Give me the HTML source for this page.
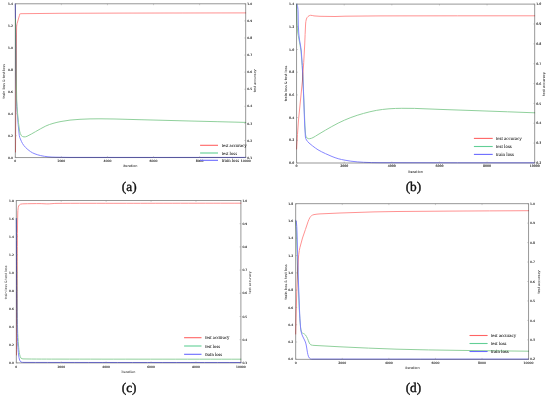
<!DOCTYPE html>
<html><head><meta charset="utf-8"><title>Figure</title>
<style>
html,body{margin:0;padding:0;background:#fff;}
svg{display:block}
text{text-rendering:geometricPrecision}
.tk{font-family:"DejaVu Sans","Liberation Sans",sans-serif;fill:#111;stroke:#111;stroke-width:0.09px}
.lb{font-family:"DejaVu Sans","Liberation Sans",sans-serif;fill:#2a2a2a;stroke:#2a2a2a;stroke-width:0.02px}
.lg{font-family:"Liberation Serif","DejaVu Serif",serif;fill:#111;stroke:#111;stroke-width:0.04px}
.cap{font-family:"Liberation Serif","DejaVu Serif",serif;font-size:13.3px;fill:#111;stroke:#111;stroke-width:0.38px}
</style></head><body>
<svg width="550" height="398" viewBox="0 0 550 398">
<rect width="550" height="398" fill="#fff"/>
<path d="M15.30 4.00C15.50 19.33 15.71 34.67 15.90 50.00C16.11 66.67 16.13 83.34 16.50 100.00C16.60 104.54 16.94 109.07 17.30 113.60C17.88 120.94 18.41 128.31 19.30 135.60C19.44 136.78 19.95 137.90 20.40 139.00C21.02 140.53 21.65 142.09 22.50 143.50C23.35 144.89 24.35 146.24 25.50 147.40C27.02 148.94 28.71 150.38 30.50 151.60C31.88 152.55 33.44 153.29 35.00 153.90C36.84 154.62 38.77 155.17 40.70 155.60C43.10 156.14 45.55 156.54 48.00 156.80C50.65 157.08 53.33 157.13 56.00 157.20C60.66 157.33 65.33 157.40 70.00 157.40C128.57 157.46 187.13 157.40 245.70 157.40" fill="none" stroke="#8080ff" stroke-width="0.95" stroke-linejoin="round" stroke-linecap="round"/>
<path d="M15.50 19.00C15.63 29.33 15.75 39.67 15.90 50.00C16.15 66.67 16.25 83.34 16.70 100.00C16.82 104.54 17.18 109.08 17.60 113.60C18.14 119.41 18.60 125.28 19.60 131.00C19.90 132.68 20.54 134.51 21.50 135.80C22.01 136.48 23.14 136.82 24.00 136.90C24.97 136.99 26.08 136.72 27.00 136.30C29.95 134.95 32.73 133.17 35.60 131.60C39.00 129.74 42.30 127.65 45.80 126.00C48.10 124.92 50.56 124.12 53.00 123.40C55.62 122.62 58.31 122.02 61.00 121.50C63.98 120.92 66.99 120.45 70.00 120.10C73.32 119.72 76.66 119.50 80.00 119.30C83.33 119.10 86.67 118.98 90.00 118.90C93.33 118.82 96.67 118.79 100.00 118.80C105.00 118.82 110.00 118.89 115.00 119.00C123.33 119.19 131.67 119.48 140.00 119.70C156.67 120.14 173.33 120.57 190.00 121.00C208.57 121.47 227.13 121.93 245.70 122.40" fill="none" stroke="#8acd97" stroke-width="0.95" stroke-linejoin="round" stroke-linecap="round"/>
<path d="M15.50 152.00C15.63 134.67 15.76 117.33 15.90 100.00C16.03 83.33 16.14 66.67 16.30 50.00C16.37 42.33 16.45 34.66 16.60 27.00C16.61 26.33 16.71 25.66 16.80 25.00C16.87 24.50 16.96 23.99 17.10 23.50C17.86 20.72 18.70 17.97 19.50 15.20C19.63 14.73 19.66 14.15 19.90 13.80C20.00 13.65 20.30 13.70 20.50 13.70C23.66 13.64 26.83 13.63 30.00 13.60C40.00 13.50 50.00 13.36 60.00 13.30C80.00 13.19 100.00 13.14 120.00 13.10C161.90 13.01 203.80 12.97 245.70 12.90" fill="none" stroke="#ff8c8c" stroke-width="0.95" stroke-linejoin="round" stroke-linecap="round" style="mix-blend-mode:multiply"/>
<rect x="15.3" y="3.8" width="230.40" height="153.80" fill="none" stroke="#8c8c8c" stroke-width="0.9" style="mix-blend-mode:multiply"/>
<path d="M15.3 157.60h1.4" stroke="#8c8c8c" stroke-width="0.4"/>
<text x="12.90" y="158.70" text-anchor="end" class="tk" font-size="3.10">0.0</text>
<path d="M15.3 135.63h1.4" stroke="#8c8c8c" stroke-width="0.4"/>
<text x="12.90" y="136.73" text-anchor="end" class="tk" font-size="3.10">0.2</text>
<path d="M15.3 113.66h1.4" stroke="#8c8c8c" stroke-width="0.4"/>
<text x="12.90" y="114.76" text-anchor="end" class="tk" font-size="3.10">0.4</text>
<path d="M15.3 91.69h1.4" stroke="#8c8c8c" stroke-width="0.4"/>
<text x="12.90" y="92.79" text-anchor="end" class="tk" font-size="3.10">0.6</text>
<path d="M15.3 69.71h1.4" stroke="#8c8c8c" stroke-width="0.4"/>
<text x="12.90" y="70.81" text-anchor="end" class="tk" font-size="3.10">0.8</text>
<path d="M15.3 47.74h1.4" stroke="#8c8c8c" stroke-width="0.4"/>
<text x="12.90" y="48.84" text-anchor="end" class="tk" font-size="3.10">1.0</text>
<path d="M15.3 25.77h1.4" stroke="#8c8c8c" stroke-width="0.4"/>
<text x="12.90" y="26.87" text-anchor="end" class="tk" font-size="3.10">1.2</text>
<path d="M15.3 3.80h1.4" stroke="#8c8c8c" stroke-width="0.4"/>
<text x="12.90" y="4.90" text-anchor="end" class="tk" font-size="3.10">1.4</text>
<path d="M245.7 157.60h-1.4" stroke="#8c8c8c" stroke-width="0.4"/>
<text x="247.20" y="158.70" class="tk" font-size="3.10">0.1</text>
<path d="M245.7 140.51h-1.4" stroke="#8c8c8c" stroke-width="0.4"/>
<text x="247.20" y="141.61" class="tk" font-size="3.10">0.2</text>
<path d="M245.7 123.42h-1.4" stroke="#8c8c8c" stroke-width="0.4"/>
<text x="247.20" y="124.52" class="tk" font-size="3.10">0.3</text>
<path d="M245.7 106.33h-1.4" stroke="#8c8c8c" stroke-width="0.4"/>
<text x="247.20" y="107.43" class="tk" font-size="3.10">0.4</text>
<path d="M245.7 89.24h-1.4" stroke="#8c8c8c" stroke-width="0.4"/>
<text x="247.20" y="90.34" class="tk" font-size="3.10">0.5</text>
<path d="M245.7 72.16h-1.4" stroke="#8c8c8c" stroke-width="0.4"/>
<text x="247.20" y="73.26" class="tk" font-size="3.10">0.6</text>
<path d="M245.7 55.07h-1.4" stroke="#8c8c8c" stroke-width="0.4"/>
<text x="247.20" y="56.17" class="tk" font-size="3.10">0.7</text>
<path d="M245.7 37.98h-1.4" stroke="#8c8c8c" stroke-width="0.4"/>
<text x="247.20" y="39.08" class="tk" font-size="3.10">0.8</text>
<path d="M245.7 20.89h-1.4" stroke="#8c8c8c" stroke-width="0.4"/>
<text x="247.20" y="21.99" class="tk" font-size="3.10">0.9</text>
<path d="M245.7 3.80h-1.4" stroke="#8c8c8c" stroke-width="0.4"/>
<text x="247.20" y="4.90" class="tk" font-size="3.10">1.0</text>
<path d="M15.30 157.6v-1.4M15.30 3.8v1.4" stroke="#8c8c8c" stroke-width="0.4"/>
<text x="15.30" y="161.80" text-anchor="middle" class="tk" font-size="3.10">0</text>
<path d="M61.38 157.6v-1.4M61.38 3.8v1.4" stroke="#8c8c8c" stroke-width="0.4"/>
<text x="61.38" y="161.80" text-anchor="middle" class="tk" font-size="3.10">2000</text>
<path d="M107.46 157.6v-1.4M107.46 3.8v1.4" stroke="#8c8c8c" stroke-width="0.4"/>
<text x="107.46" y="161.80" text-anchor="middle" class="tk" font-size="3.10">4000</text>
<path d="M153.54 157.6v-1.4M153.54 3.8v1.4" stroke="#8c8c8c" stroke-width="0.4"/>
<text x="153.54" y="161.80" text-anchor="middle" class="tk" font-size="3.10">6000</text>
<path d="M199.62 157.6v-1.4M199.62 3.8v1.4" stroke="#8c8c8c" stroke-width="0.4"/>
<text x="199.62" y="161.80" text-anchor="middle" class="tk" font-size="3.10">8000</text>
<path d="M245.70 157.6v-1.4M245.70 3.8v1.4" stroke="#8c8c8c" stroke-width="0.4"/>
<text x="245.70" y="161.80" text-anchor="middle" class="tk" font-size="3.10">10000</text>
<text transform="translate(5.40 81.30) rotate(-90)" text-anchor="middle" class="lb" font-size="3.40">train loss &amp; test loss</text>
<text transform="translate(256.30 80.90) rotate(-90)" text-anchor="middle" class="lb" font-size="3.40">test accuracy</text>
<text x="130.20" y="167.10" text-anchor="middle" class="lb" font-size="3.40">iteration</text>
<path d="M200.1 145.3H218" stroke="#ff6464" stroke-width="1.1"/>
<text x="221.8" y="146.80" class="lg" font-size="4.78">test accuracy</text>
<path d="M200.1 153H218" stroke="#62cf96" stroke-width="1.1"/>
<text x="221.8" y="154.50" class="lg" font-size="4.78">test loss</text>
<path d="M200.1 160.3H218" stroke="#6a6aff" stroke-width="1.1"/>
<text x="221.8" y="161.80" class="lg" font-size="4.78">train loss</text>
<path d="M296.60 4.20C296.67 6.80 296.74 9.40 296.80 12.00C296.87 15.33 296.85 18.67 297.00 22.00C297.15 25.34 297.33 28.68 297.70 32.00C297.96 34.35 298.49 36.67 298.90 39.00C299.59 43.00 300.60 46.96 301.00 51.00C301.96 60.63 302.47 70.33 303.00 80.00C303.64 91.66 303.95 103.34 304.50 115.00C304.82 121.67 304.84 128.44 305.60 135.00C305.74 136.17 306.41 137.47 307.20 138.20C307.74 138.70 308.81 138.78 309.60 138.70C310.75 138.58 311.94 138.12 313.00 137.60C314.74 136.75 316.33 135.60 318.00 134.60C320.46 133.13 322.91 131.62 325.40 130.20C329.64 127.79 333.84 125.27 338.20 123.10C342.34 121.04 346.58 119.15 350.90 117.50C355.05 115.92 359.32 114.60 363.60 113.40C367.79 112.23 372.03 111.17 376.30 110.40C380.49 109.64 384.75 109.15 389.00 108.80C393.25 108.45 397.53 108.37 401.80 108.30C406.03 108.23 410.27 108.28 414.50 108.40C423.00 108.64 431.50 109.09 440.00 109.40C453.33 109.89 466.67 110.32 480.00 110.80C498.23 111.45 516.47 112.13 534.70 112.80" fill="none" stroke="#8acd97" stroke-width="0.95" stroke-linejoin="round" stroke-linecap="round"/>
<path d="M296.60 4.20C296.93 4.97 297.44 5.69 297.60 6.50C297.94 8.29 298.03 10.16 298.10 12.00C298.26 16.33 298.16 20.67 298.30 25.00C298.40 28.00 298.54 31.01 298.80 34.00C299.00 36.34 299.36 38.67 299.70 41.00C300.19 44.34 301.02 47.64 301.30 51.00C302.12 60.64 302.55 70.33 303.00 80.00C303.55 91.66 303.81 103.34 304.30 115.00C304.61 122.34 304.76 129.72 305.40 137.00C305.49 138.06 305.96 139.10 306.50 140.00C307.16 141.10 308.07 142.10 309.00 143.00C310.14 144.10 311.43 145.04 312.70 146.00C314.43 147.31 316.14 148.69 318.00 149.80C320.37 151.22 322.90 152.40 325.40 153.60C327.57 154.64 329.77 155.61 332.00 156.50C334.04 157.31 336.09 158.10 338.20 158.70C340.43 159.33 342.72 159.75 345.00 160.20C346.96 160.59 348.92 160.98 350.90 161.20C355.12 161.68 359.36 162.08 363.60 162.30C369.06 162.58 374.53 162.68 380.00 162.70C431.57 162.85 483.13 162.77 534.70 162.80" fill="none" stroke="#8080ff" stroke-width="0.95" stroke-linejoin="round" stroke-linecap="round"/>
<path d="M296.60 149.00C297.23 139.33 297.67 129.65 298.50 120.00C299.64 106.65 301.40 93.35 302.50 80.00C303.46 68.35 304.05 56.67 304.70 45.00C305.09 38.00 305.14 30.98 305.60 24.00C305.71 22.32 305.90 20.58 306.40 19.00C306.70 18.08 307.29 17.14 308.00 16.50C308.66 15.90 309.62 15.39 310.50 15.30C311.62 15.19 312.82 15.78 314.00 15.90C315.99 16.11 318.00 16.24 320.00 16.30C325.00 16.44 330.00 16.52 335.00 16.50C338.33 16.49 341.67 16.24 345.00 16.20C356.67 16.04 368.33 15.92 380.00 15.90C431.57 15.79 483.13 15.83 534.70 15.80" fill="none" stroke="#ff8c8c" stroke-width="0.95" stroke-linejoin="round" stroke-linecap="round" style="mix-blend-mode:multiply"/>
<rect x="296.6" y="4.1" width="238.10" height="158.90" fill="none" stroke="#8c8c8c" stroke-width="0.9" style="mix-blend-mode:multiply"/>
<path d="M296.6 163.00h1.4" stroke="#8c8c8c" stroke-width="0.4"/>
<text x="294.20" y="164.10" text-anchor="end" class="tk" font-size="3.20">0.0</text>
<path d="M296.6 140.30h1.4" stroke="#8c8c8c" stroke-width="0.4"/>
<text x="294.20" y="141.40" text-anchor="end" class="tk" font-size="3.20">0.2</text>
<path d="M296.6 117.60h1.4" stroke="#8c8c8c" stroke-width="0.4"/>
<text x="294.20" y="118.70" text-anchor="end" class="tk" font-size="3.20">0.4</text>
<path d="M296.6 94.90h1.4" stroke="#8c8c8c" stroke-width="0.4"/>
<text x="294.20" y="96.00" text-anchor="end" class="tk" font-size="3.20">0.6</text>
<path d="M296.6 72.20h1.4" stroke="#8c8c8c" stroke-width="0.4"/>
<text x="294.20" y="73.30" text-anchor="end" class="tk" font-size="3.20">0.8</text>
<path d="M296.6 49.50h1.4" stroke="#8c8c8c" stroke-width="0.4"/>
<text x="294.20" y="50.60" text-anchor="end" class="tk" font-size="3.20">1.0</text>
<path d="M296.6 26.80h1.4" stroke="#8c8c8c" stroke-width="0.4"/>
<text x="294.20" y="27.90" text-anchor="end" class="tk" font-size="3.20">1.2</text>
<path d="M296.6 4.10h1.4" stroke="#8c8c8c" stroke-width="0.4"/>
<text x="294.20" y="5.20" text-anchor="end" class="tk" font-size="3.20">1.4</text>
<path d="M534.7 163.00h-1.4" stroke="#8c8c8c" stroke-width="0.4"/>
<text x="536.20" y="164.10" class="tk" font-size="3.20">0.2</text>
<path d="M534.7 143.14h-1.4" stroke="#8c8c8c" stroke-width="0.4"/>
<text x="536.20" y="144.24" class="tk" font-size="3.20">0.3</text>
<path d="M534.7 123.28h-1.4" stroke="#8c8c8c" stroke-width="0.4"/>
<text x="536.20" y="124.38" class="tk" font-size="3.20">0.4</text>
<path d="M534.7 103.41h-1.4" stroke="#8c8c8c" stroke-width="0.4"/>
<text x="536.20" y="104.51" class="tk" font-size="3.20">0.5</text>
<path d="M534.7 83.55h-1.4" stroke="#8c8c8c" stroke-width="0.4"/>
<text x="536.20" y="84.65" class="tk" font-size="3.20">0.6</text>
<path d="M534.7 63.69h-1.4" stroke="#8c8c8c" stroke-width="0.4"/>
<text x="536.20" y="64.79" class="tk" font-size="3.20">0.7</text>
<path d="M534.7 43.82h-1.4" stroke="#8c8c8c" stroke-width="0.4"/>
<text x="536.20" y="44.92" class="tk" font-size="3.20">0.8</text>
<path d="M534.7 23.96h-1.4" stroke="#8c8c8c" stroke-width="0.4"/>
<text x="536.20" y="25.06" class="tk" font-size="3.20">0.9</text>
<path d="M534.7 4.10h-1.4" stroke="#8c8c8c" stroke-width="0.4"/>
<text x="536.20" y="5.20" class="tk" font-size="3.20">1.0</text>
<path d="M296.60 163v-1.4M296.60 4.1v1.4" stroke="#8c8c8c" stroke-width="0.4"/>
<text x="296.60" y="167.20" text-anchor="middle" class="tk" font-size="3.20">0</text>
<path d="M344.22 163v-1.4M344.22 4.1v1.4" stroke="#8c8c8c" stroke-width="0.4"/>
<text x="344.22" y="167.20" text-anchor="middle" class="tk" font-size="3.20">2000</text>
<path d="M391.84 163v-1.4M391.84 4.1v1.4" stroke="#8c8c8c" stroke-width="0.4"/>
<text x="391.84" y="167.20" text-anchor="middle" class="tk" font-size="3.20">4000</text>
<path d="M439.46 163v-1.4M439.46 4.1v1.4" stroke="#8c8c8c" stroke-width="0.4"/>
<text x="439.46" y="167.20" text-anchor="middle" class="tk" font-size="3.20">6000</text>
<path d="M487.08 163v-1.4M487.08 4.1v1.4" stroke="#8c8c8c" stroke-width="0.4"/>
<text x="487.08" y="167.20" text-anchor="middle" class="tk" font-size="3.20">8000</text>
<path d="M534.70 163v-1.4M534.70 4.1v1.4" stroke="#8c8c8c" stroke-width="0.4"/>
<text x="534.70" y="167.20" text-anchor="middle" class="tk" font-size="3.20">10000</text>
<text transform="translate(286.80 83.50) rotate(-90)" text-anchor="middle" class="lb" font-size="3.51">train loss &amp; test loss</text>
<text transform="translate(545.30 84.00) rotate(-90)" text-anchor="middle" class="lb" font-size="3.51">test accuracy</text>
<text x="415.60" y="172.50" text-anchor="middle" class="lb" font-size="3.51">iteration</text>
<path d="M473.9 138.4H492.7" stroke="#ff6464" stroke-width="1.1"/>
<text x="496" y="139.90" class="lg" font-size="4.94">test accuracy</text>
<path d="M473.9 146.5H492.7" stroke="#62cf96" stroke-width="1.1"/>
<text x="496" y="148.00" class="lg" font-size="4.94">test loss</text>
<path d="M473.9 154.4H492.7" stroke="#6a6aff" stroke-width="1.1"/>
<text x="496" y="155.90" class="lg" font-size="4.94">train loss</text>
<path d="M16.40 218.50C16.53 234.90 16.72 263.60 16.90 280.00C17.04 293.33 17.27 316.67 17.60 330.00C17.70 334.01 18.17 341.01 18.50 345.00C18.70 347.49 19.14 351.86 19.60 354.30C19.80 355.38 20.40 357.39 21.00 358.20C21.31 358.62 22.44 358.89 23.00 358.90C32.84 359.13 50.13 359.09 60.00 359.10C108.24 359.17 192.66 359.17 240.90 359.20" fill="none" stroke="#8acd97" stroke-width="0.95" stroke-linejoin="round" stroke-linecap="round"/>
<path d="M16.30 218.50C16.38 234.90 16.47 263.60 16.60 280.00C16.71 293.33 16.95 316.67 17.20 330.00C17.27 334.00 17.58 341.00 17.80 345.00C17.95 347.67 18.28 352.35 18.60 355.00C18.76 356.35 19.17 358.74 19.60 360.00C19.81 360.60 20.48 361.71 21.00 362.00C21.65 362.35 23.19 362.40 24.00 362.40C81.83 362.53 183.06 362.47 240.90 362.50" fill="none" stroke="#8080ff" stroke-width="0.95" stroke-linejoin="round" stroke-linecap="round"/>
<path d="M16.50 355.00C16.63 340.33 16.89 314.67 17.00 300.00C17.13 284.00 17.25 256.00 17.40 240.00C17.47 232.53 17.54 219.46 17.80 212.00C17.86 210.39 18.10 207.45 18.60 206.00C18.82 205.37 19.89 204.45 20.50 204.20C21.33 203.86 23.06 203.83 24.00 203.80C28.26 203.67 35.73 203.58 40.00 203.60C42.13 203.61 45.87 203.93 48.00 203.90C50.13 203.87 53.86 203.42 56.00 203.40C73.06 203.26 102.93 203.32 120.00 203.30C152.24 203.27 208.66 203.23 240.90 203.20" fill="none" stroke="#ff8c8c" stroke-width="0.95" stroke-linejoin="round" stroke-linecap="round" style="mix-blend-mode:multiply"/>
<rect x="16.3" y="200.5" width="224.60" height="162.40" fill="none" stroke="#8c8c8c" stroke-width="0.9" style="mix-blend-mode:multiply"/>
<path d="M16.3 362.90h1.4" stroke="#8c8c8c" stroke-width="0.4"/>
<text x="13.90" y="364.00" text-anchor="end" class="tk" font-size="3.02">0.0</text>
<path d="M16.3 344.86h1.4" stroke="#8c8c8c" stroke-width="0.4"/>
<text x="13.90" y="345.96" text-anchor="end" class="tk" font-size="3.02">0.2</text>
<path d="M16.3 326.81h1.4" stroke="#8c8c8c" stroke-width="0.4"/>
<text x="13.90" y="327.91" text-anchor="end" class="tk" font-size="3.02">0.4</text>
<path d="M16.3 308.77h1.4" stroke="#8c8c8c" stroke-width="0.4"/>
<text x="13.90" y="309.87" text-anchor="end" class="tk" font-size="3.02">0.6</text>
<path d="M16.3 290.72h1.4" stroke="#8c8c8c" stroke-width="0.4"/>
<text x="13.90" y="291.82" text-anchor="end" class="tk" font-size="3.02">0.8</text>
<path d="M16.3 272.68h1.4" stroke="#8c8c8c" stroke-width="0.4"/>
<text x="13.90" y="273.78" text-anchor="end" class="tk" font-size="3.02">1.0</text>
<path d="M16.3 254.63h1.4" stroke="#8c8c8c" stroke-width="0.4"/>
<text x="13.90" y="255.73" text-anchor="end" class="tk" font-size="3.02">1.2</text>
<path d="M16.3 236.59h1.4" stroke="#8c8c8c" stroke-width="0.4"/>
<text x="13.90" y="237.69" text-anchor="end" class="tk" font-size="3.02">1.4</text>
<path d="M16.3 218.54h1.4" stroke="#8c8c8c" stroke-width="0.4"/>
<text x="13.90" y="219.64" text-anchor="end" class="tk" font-size="3.02">1.6</text>
<path d="M16.3 200.50h1.4" stroke="#8c8c8c" stroke-width="0.4"/>
<text x="13.90" y="201.60" text-anchor="end" class="tk" font-size="3.02">1.8</text>
<path d="M240.9 362.90h-1.4" stroke="#8c8c8c" stroke-width="0.4"/>
<text x="242.40" y="364.00" class="tk" font-size="3.02">0.3</text>
<path d="M240.9 339.70h-1.4" stroke="#8c8c8c" stroke-width="0.4"/>
<text x="242.40" y="340.80" class="tk" font-size="3.02">0.4</text>
<path d="M240.9 316.50h-1.4" stroke="#8c8c8c" stroke-width="0.4"/>
<text x="242.40" y="317.60" class="tk" font-size="3.02">0.5</text>
<path d="M240.9 293.30h-1.4" stroke="#8c8c8c" stroke-width="0.4"/>
<text x="242.40" y="294.40" class="tk" font-size="3.02">0.6</text>
<path d="M240.9 270.10h-1.4" stroke="#8c8c8c" stroke-width="0.4"/>
<text x="242.40" y="271.20" class="tk" font-size="3.02">0.7</text>
<path d="M240.9 246.90h-1.4" stroke="#8c8c8c" stroke-width="0.4"/>
<text x="242.40" y="248.00" class="tk" font-size="3.02">0.8</text>
<path d="M240.9 223.70h-1.4" stroke="#8c8c8c" stroke-width="0.4"/>
<text x="242.40" y="224.80" class="tk" font-size="3.02">0.9</text>
<path d="M240.9 200.50h-1.4" stroke="#8c8c8c" stroke-width="0.4"/>
<text x="242.40" y="201.60" class="tk" font-size="3.02">1.0</text>
<path d="M16.30 362.9v-1.4M16.30 200.5v1.4" stroke="#8c8c8c" stroke-width="0.4"/>
<text x="16.30" y="367.80" text-anchor="middle" class="tk" font-size="3.02">0</text>
<path d="M61.22 362.9v-1.4M61.22 200.5v1.4" stroke="#8c8c8c" stroke-width="0.4"/>
<text x="61.22" y="367.80" text-anchor="middle" class="tk" font-size="3.02">2000</text>
<path d="M106.14 362.9v-1.4M106.14 200.5v1.4" stroke="#8c8c8c" stroke-width="0.4"/>
<text x="106.14" y="367.80" text-anchor="middle" class="tk" font-size="3.02">4000</text>
<path d="M151.06 362.9v-1.4M151.06 200.5v1.4" stroke="#8c8c8c" stroke-width="0.4"/>
<text x="151.06" y="367.80" text-anchor="middle" class="tk" font-size="3.02">6000</text>
<path d="M195.98 362.9v-1.4M195.98 200.5v1.4" stroke="#8c8c8c" stroke-width="0.4"/>
<text x="195.98" y="367.80" text-anchor="middle" class="tk" font-size="3.02">8000</text>
<path d="M240.90 362.9v-1.4M240.90 200.5v1.4" stroke="#8c8c8c" stroke-width="0.4"/>
<text x="240.90" y="367.80" text-anchor="middle" class="tk" font-size="3.02">10000</text>
<text transform="translate(6.90 282.40) rotate(-90)" text-anchor="middle" class="lb" font-size="3.31">train loss &amp; test loss</text>
<text transform="translate(251.30 282.40) rotate(-90)" text-anchor="middle" class="lb" font-size="3.31">test accuracy</text>
<text x="128.50" y="372.80" text-anchor="middle" class="lb" font-size="3.31">iteration</text>
<path d="M184.1 337.7H201.5" stroke="#ff6464" stroke-width="1.1"/>
<text x="205.2" y="339.20" class="lg" font-size="4.66">test accuracy</text>
<path d="M184.1 346H201.5" stroke="#62cf96" stroke-width="1.1"/>
<text x="205.2" y="347.50" class="lg" font-size="4.66">test loss</text>
<path d="M184.1 354.3H201.5" stroke="#6a6aff" stroke-width="1.1"/>
<text x="205.2" y="355.80" class="lg" font-size="4.66">train loss</text>
<path d="M295.70 221.50C295.93 225.00 296.26 228.50 296.40 232.00C296.96 246.33 297.27 260.67 297.80 275.00C298.23 286.67 298.69 298.34 299.30 310.00C299.59 315.67 299.90 321.36 300.50 327.00C300.70 328.86 300.97 330.91 301.70 332.50C301.97 333.08 302.93 333.13 303.50 333.50C304.16 333.93 304.92 334.30 305.40 334.90C306.25 335.96 306.90 337.25 307.50 338.50C308.20 339.95 308.56 341.58 309.30 343.00C309.66 343.68 310.14 344.47 310.80 344.80C311.71 345.27 312.92 345.33 314.00 345.40C322.65 345.99 331.33 346.40 340.00 346.80C359.00 347.67 377.99 348.63 397.00 349.20C417.99 349.83 439.00 350.08 460.00 350.40C482.87 350.75 505.73 350.93 528.60 351.20" fill="none" stroke="#8acd97" stroke-width="0.95" stroke-linejoin="round" stroke-linecap="round"/>
<path d="M295.70 220.50C295.90 220.67 296.27 220.75 296.30 221.00C296.70 224.58 296.87 228.33 297.00 232.00C297.50 246.33 297.74 260.67 298.20 275.00C298.57 286.67 298.97 298.34 299.50 310.00C299.77 316.00 300.05 322.02 300.60 328.00C300.78 329.99 301.15 331.99 301.70 333.90C302.11 335.32 302.88 336.64 303.50 338.00C304.11 339.34 304.90 340.62 305.40 342.00C305.87 343.29 306.14 344.65 306.40 346.00C306.80 348.05 306.98 350.15 307.40 352.20C307.72 353.75 307.95 355.40 308.60 356.80C308.99 357.63 309.72 358.49 310.50 358.90C311.19 359.26 312.16 359.10 313.00 359.10C384.86 359.17 456.73 359.10 528.60 359.10" fill="none" stroke="#8080ff" stroke-width="0.95" stroke-linejoin="round" stroke-linecap="round"/>
<path d="M295.70 334.00C295.97 322.67 296.17 311.33 296.50 300.00C296.74 291.66 297.03 283.33 297.40 275.00C297.63 269.66 297.89 264.32 298.30 259.00C298.52 256.16 298.84 253.31 299.30 250.50C299.60 248.64 300.13 246.82 300.60 245.00C301.20 242.66 301.78 240.31 302.50 238.00C303.38 235.17 304.45 232.40 305.40 229.60C306.28 227.00 307.03 224.36 308.00 221.80C308.57 220.29 309.20 218.78 310.00 217.40C310.40 216.71 310.96 216.05 311.60 215.60C312.29 215.12 313.16 214.77 314.00 214.60C315.96 214.20 317.99 214.02 320.00 213.90C326.66 213.49 333.33 213.25 340.00 213.00C351.33 212.58 362.66 212.20 374.00 211.90C381.66 211.70 389.33 211.58 397.00 211.50C414.67 211.31 432.33 211.21 450.00 211.10C476.20 210.94 502.40 210.83 528.60 210.70" fill="none" stroke="#ff8c8c" stroke-width="0.95" stroke-linejoin="round" stroke-linecap="round" style="mix-blend-mode:multiply"/>
<rect x="295.7" y="203.7" width="232.90" height="155.60" fill="none" stroke="#8c8c8c" stroke-width="0.9" style="mix-blend-mode:multiply"/>
<path d="M295.7 359.30h1.4" stroke="#8c8c8c" stroke-width="0.4"/>
<text x="293.30" y="360.40" text-anchor="end" class="tk" font-size="3.13">0.0</text>
<path d="M295.7 342.01h1.4" stroke="#8c8c8c" stroke-width="0.4"/>
<text x="293.30" y="343.11" text-anchor="end" class="tk" font-size="3.13">0.2</text>
<path d="M295.7 324.72h1.4" stroke="#8c8c8c" stroke-width="0.4"/>
<text x="293.30" y="325.82" text-anchor="end" class="tk" font-size="3.13">0.4</text>
<path d="M295.7 307.43h1.4" stroke="#8c8c8c" stroke-width="0.4"/>
<text x="293.30" y="308.53" text-anchor="end" class="tk" font-size="3.13">0.6</text>
<path d="M295.7 290.14h1.4" stroke="#8c8c8c" stroke-width="0.4"/>
<text x="293.30" y="291.24" text-anchor="end" class="tk" font-size="3.13">0.8</text>
<path d="M295.7 272.86h1.4" stroke="#8c8c8c" stroke-width="0.4"/>
<text x="293.30" y="273.96" text-anchor="end" class="tk" font-size="3.13">1.0</text>
<path d="M295.7 255.57h1.4" stroke="#8c8c8c" stroke-width="0.4"/>
<text x="293.30" y="256.67" text-anchor="end" class="tk" font-size="3.13">1.2</text>
<path d="M295.7 238.28h1.4" stroke="#8c8c8c" stroke-width="0.4"/>
<text x="293.30" y="239.38" text-anchor="end" class="tk" font-size="3.13">1.4</text>
<path d="M295.7 220.99h1.4" stroke="#8c8c8c" stroke-width="0.4"/>
<text x="293.30" y="222.09" text-anchor="end" class="tk" font-size="3.13">1.6</text>
<path d="M295.7 203.70h1.4" stroke="#8c8c8c" stroke-width="0.4"/>
<text x="293.30" y="204.80" text-anchor="end" class="tk" font-size="3.13">1.8</text>
<path d="M528.6 359.30h-1.4" stroke="#8c8c8c" stroke-width="0.4"/>
<text x="530.10" y="360.40" class="tk" font-size="3.13">0.2</text>
<path d="M528.6 339.85h-1.4" stroke="#8c8c8c" stroke-width="0.4"/>
<text x="530.10" y="340.95" class="tk" font-size="3.13">0.3</text>
<path d="M528.6 320.40h-1.4" stroke="#8c8c8c" stroke-width="0.4"/>
<text x="530.10" y="321.50" class="tk" font-size="3.13">0.4</text>
<path d="M528.6 300.95h-1.4" stroke="#8c8c8c" stroke-width="0.4"/>
<text x="530.10" y="302.05" class="tk" font-size="3.13">0.5</text>
<path d="M528.6 281.50h-1.4" stroke="#8c8c8c" stroke-width="0.4"/>
<text x="530.10" y="282.60" class="tk" font-size="3.13">0.6</text>
<path d="M528.6 262.05h-1.4" stroke="#8c8c8c" stroke-width="0.4"/>
<text x="530.10" y="263.15" class="tk" font-size="3.13">0.7</text>
<path d="M528.6 242.60h-1.4" stroke="#8c8c8c" stroke-width="0.4"/>
<text x="530.10" y="243.70" class="tk" font-size="3.13">0.8</text>
<path d="M528.6 223.15h-1.4" stroke="#8c8c8c" stroke-width="0.4"/>
<text x="530.10" y="224.25" class="tk" font-size="3.13">0.9</text>
<path d="M528.6 203.70h-1.4" stroke="#8c8c8c" stroke-width="0.4"/>
<text x="530.10" y="204.80" class="tk" font-size="3.13">1.0</text>
<path d="M295.70 359.3v-1.4M295.70 203.7v1.4" stroke="#8c8c8c" stroke-width="0.4"/>
<text x="295.70" y="363.90" text-anchor="middle" class="tk" font-size="3.13">0</text>
<path d="M342.28 359.3v-1.4M342.28 203.7v1.4" stroke="#8c8c8c" stroke-width="0.4"/>
<text x="342.28" y="363.90" text-anchor="middle" class="tk" font-size="3.13">2000</text>
<path d="M388.86 359.3v-1.4M388.86 203.7v1.4" stroke="#8c8c8c" stroke-width="0.4"/>
<text x="388.86" y="363.90" text-anchor="middle" class="tk" font-size="3.13">4000</text>
<path d="M435.44 359.3v-1.4M435.44 203.7v1.4" stroke="#8c8c8c" stroke-width="0.4"/>
<text x="435.44" y="363.90" text-anchor="middle" class="tk" font-size="3.13">6000</text>
<path d="M482.02 359.3v-1.4M482.02 203.7v1.4" stroke="#8c8c8c" stroke-width="0.4"/>
<text x="482.02" y="363.90" text-anchor="middle" class="tk" font-size="3.13">8000</text>
<path d="M528.60 359.3v-1.4M528.60 203.7v1.4" stroke="#8c8c8c" stroke-width="0.4"/>
<text x="528.60" y="363.90" text-anchor="middle" class="tk" font-size="3.13">10000</text>
<text transform="translate(286.50 282.00) rotate(-90)" text-anchor="middle" class="lb" font-size="3.44">train loss &amp; test loss</text>
<text transform="translate(540.10 282.00) rotate(-90)" text-anchor="middle" class="lb" font-size="3.44">test accuracy</text>
<text x="412.40" y="369.20" text-anchor="middle" class="lb" font-size="3.44">iteration</text>
<path d="M469.5 335.5H487.6" stroke="#ff6464" stroke-width="1.1"/>
<text x="491" y="337.00" class="lg" font-size="4.83">test accuracy</text>
<path d="M469.5 343.5H487.6" stroke="#62cf96" stroke-width="1.1"/>
<text x="491" y="345.00" class="lg" font-size="4.83">test loss</text>
<path d="M469.5 351.5H487.6" stroke="#6a6aff" stroke-width="1.1"/>
<text x="491" y="353.00" class="lg" font-size="4.83">train loss</text>
<text x="129.2" y="191.4" text-anchor="middle" class="cap">(a)</text>
<text x="413.4" y="191.2" text-anchor="middle" class="cap">(b)</text>
<text x="129.1" y="392.2" text-anchor="middle" class="cap">(c)</text>
<text x="413.4" y="392.2" text-anchor="middle" class="cap">(d)</text>
</svg>
</body></html>
